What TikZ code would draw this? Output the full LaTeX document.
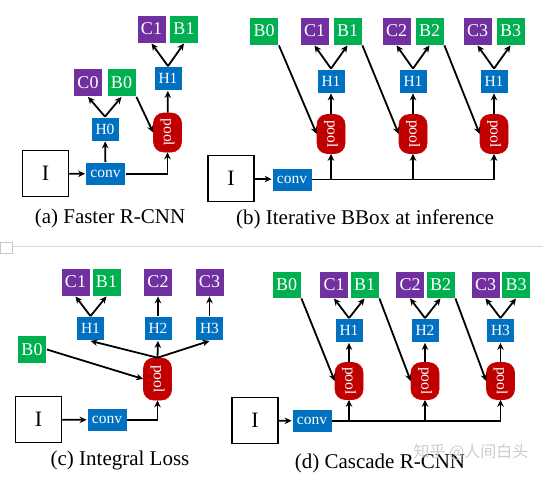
\documentclass[tikz,border=0pt]{standalone}
\usepackage{graphicx}
\usepackage{fontspec}
\usetikzlibrary{arrows.meta}
\setmainfont{Liberation Serif}
\newfontfamily\cjkfont{Noto Sans CJK SC}
\definecolor{clspurple}{HTML}{7030A0}
\definecolor{boxgreen}{HTML}{00B050}
\definecolor{headblue}{HTML}{0070C0}
\definecolor{poolred}{HTML}{C00000}
\begin{document}
\begin{tikzpicture}
        [x=1pt, y=-1pt, >={Stealth[length=7pt, width=6.5pt]}, line width=1.8pt,
         cls/.style={rectangle, fill=clspurple, text=white, minimum width=28pt, minimum height=27pt, inner sep=0pt, font=\fontsize{18}{18}\selectfont},
         reg/.style={cls, fill=boxgreen},
         head/.style={rectangle, fill=headblue, text=white, minimum width=27pt, minimum height=23pt, inner sep=0pt, font=\fontsize{15.5}{15.5}\selectfont},
         convbox/.style={head, minimum width=39pt, minimum height=22pt},
         pool/.style={rectangle, rounded corners=10pt, fill=poolred, draw=red!80!black, line width=0.6pt, text=white, minimum width=28pt, minimum height=39pt, inner sep=0pt, font=\fontsize{15.5}{15.5}\selectfont},
         image/.style={rectangle, draw=black, line width=1.5pt, fill=white, minimum size=46pt, inner sep=0pt, font=\fontsize{22}{22}\selectfont},
         caption/.style={font=\fontsize{21}{21}\selectfont}]

        \useasboundingbox (0, 0) rectangle (543, 477);

        % screenshot separator
        \draw[gray!30, line width=0.6pt] (12, 246) -- (543, 246);
        \draw[gray!45, line width=0.6pt] (0, 242) rectangle (12, 253);

        % (a) Faster R-CNN
        \node[image] (Ia) at (45.5, 173.5) {I};
        \node[convbox] (conva) at (105.5, 174) {conv};
        \node[head] (H0a) at (105, 129) {H0};
        \node[cls] (C0a) at (88, 82.5) {C0};
        \node[reg] (B0a) at (121.5, 82.5) {B0};
        \node[pool] (poola) at (167.5, 132.5) {\rotatebox{-90}{pool}};
        \node[head] (H1a) at (168, 78.5) {H1};
        \node[cls] (C1a) at (151.5, 29) {C1};
        \node[reg] (B1a) at (184, 29) {B1};
        \node[caption] (capa) at (110, 218) {(a) Faster R-CNN};

        \draw[->] (Ia) -- (conva);
        \draw[->] (conva) -- (H0a);
        \draw[->] (H0a.north) -- (C0a.south);
        \draw[->] (H0a.north) -- (B0a.south);
        \draw[->] (B0a.south east) -- (poola.west);
        \draw[->] (conva.east) -| (poola.south);
        \draw[->] (poola) -- (H1a);
        \draw[->] (H1a.north) -- (C1a.south);
        \draw[->] (H1a.north) -- (B1a.south);

        % (b) Iterative BBox at inference
        \node[image] (Ib) at (231, 178.5) {I};
        \node[convbox] (convb) at (292, 179.5) {conv};
        \node[reg] (B0b) at (264, 31) {B0};
        \foreach \i/\x in {1/331, 2/413, 3/494} {
            \node[pool] (poolb\i) at (\x, 134) {\rotatebox{-90}{pool}};
            \node[head] (Hb\i) at (\x, 81) {H1};
            \node[cls] (Cb\i) at (\x-16.5, 31) {C\i};
            \node[reg] (Bb\i) at (\x+16.5, 31) {B\i};
            \draw[->] (poolb\i) -- (Hb\i);
            \draw[->] (Hb\i.north) -- (Cb\i.south);
            \draw[->] (Hb\i.north) -- (Bb\i.south);
        }
        \node[caption] (capb) at (365, 219) {(b) Iterative BBox at inference};

        \draw[->] (Ib) -- (convb);
        \draw[->] (convb.east) -| (poolb3.south);
        \draw[->] (poolb1.south |- convb.east) -- (poolb1.south);
        \draw[->] (poolb2.south |- convb.east) -- (poolb2.south);
        \draw[->] (B0b.south east) -- (poolb1.west);
        \draw[->] (Bb1.south east) -- (poolb2.west);
        \draw[->] (Bb2.south east) -- (poolb3.west);

        % (c) Integral Loss
        \node[image] (Ic) at (38.5, 419.5) {I};
        \node[convbox] (convc) at (107, 420) {conv};
        \node[pool, minimum height=42pt] (poolc) at (157.5, 379) {\rotatebox{-90}{pool}};
        \node[reg] (B0c) at (32, 349.5) {B0};
        \node[head] (H1c) at (90.5, 328.5) {H1};
        \node[head] (H2c) at (158, 328.5) {H2};
        \node[head] (H3c) at (209.5, 328.5) {H3};
        \node[cls] (C1c) at (75.5, 282) {C1};
        \node[reg] (B1c) at (106.5, 282) {B1};
        \node[cls] (C2c) at (158, 282) {C2};
        \node[cls] (C3c) at (209.5, 282) {C3};
        \node[caption] (capc) at (120, 460) {(c) Integral Loss};

        \draw[->] (Ic) -- (convc);
        \draw[->] (convc.east) -| (poolc.south);
        \draw[->] (B0c.east) -- (poolc.west);
        \draw[->] (poolc.north) -- (H1c.south);
        \draw[->] (poolc.north) -- (H2c.south);
        \draw[->] (poolc.north) -- (H3c.south);
        \draw[->] (H1c.north) -- (C1c.south);
        \draw[->] (H1c.north) -- (B1c.south);
        \draw[->] (H2c) -- (C2c);
        \draw[->] (H3c) -- (C3c);

        % (d) Cascade R-CNN
        \node[image] (Id) at (255, 420.5) {I};
        \node[convbox] (convd) at (312, 421) {conv};
        \node[reg, minimum height=26pt] (B0d) at (286.5, 284.5) {B0};
        \foreach \i/\x in {1/349, 2/425, 3/500.5} {
            \node[pool, minimum height=37pt] (poold\i) at (\x, 381) {\rotatebox{-90}{pool}};
            \node[head] (Hd\i) at (\x, 330.5) {H\i};
            \node[cls, minimum height=26pt] (Cd\i) at (\x-15, 284.5) {C\i};
            \node[reg, minimum height=26pt] (Bd\i) at (\x+15.5, 284.5) {B\i};
            \draw[->] (poold\i) -- (Hd\i);
            \draw[->] (Hd\i.north) -- (Cd\i.south);
            \draw[->] (Hd\i.north) -- (Bd\i.south);
        }
        \node[caption] (capd) at (380, 463) {(d) Cascade R-CNN};

        \draw[->] (Id) -- (convd);
        \draw[->] (convd.east) -| (poold3.south);
        \draw[->] (poold1.south |- convd.east) -- (poold1.south);
        \draw[->] (poold2.south |- convd.east) -- (poold2.south);
        \draw[->] (B0d.south east) -- (poold1.west);
        \draw[->] (Bd1.south east) -- (poold2.west);
        \draw[->] (Bd2.south east) -- (poold3.west);

        % watermark
        \node[text=gray!40, font=\cjkfont\fontsize{16}{16}\selectfont] (mark) at (471, 452) {知乎 @人间白头};
    \end{tikzpicture}
\end{document}
